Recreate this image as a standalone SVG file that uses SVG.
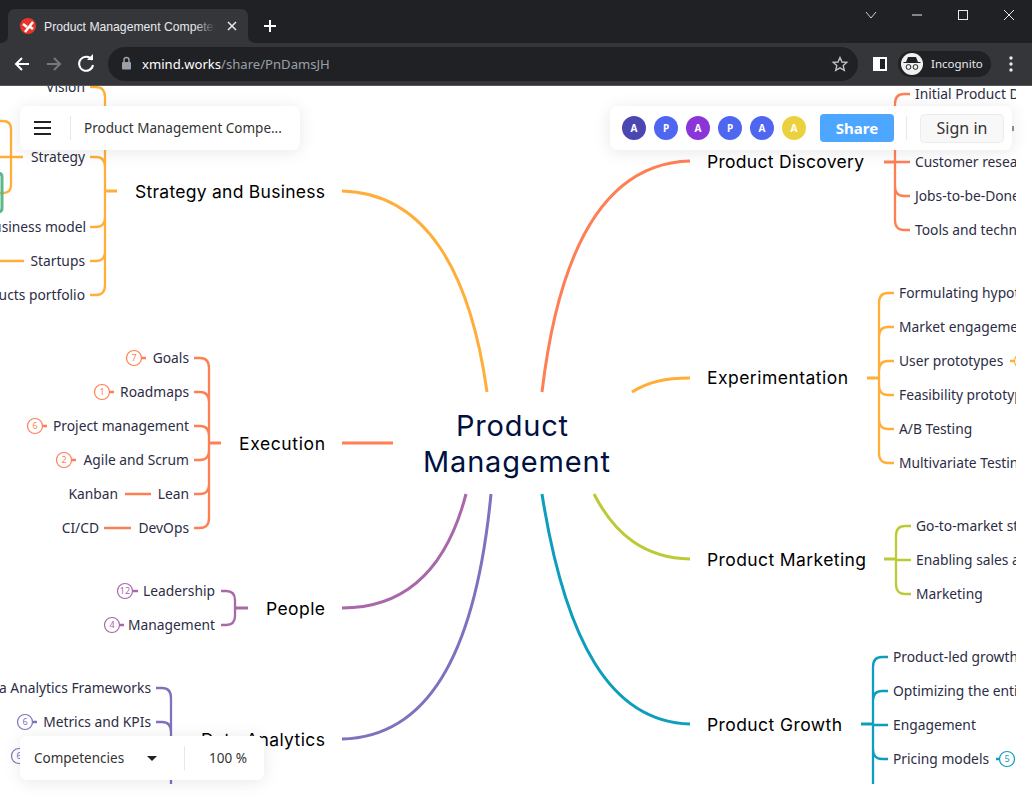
<svg xmlns="http://www.w3.org/2000/svg" width="1032" height="800" viewBox="0 0 1032 800">
<style>
text{font-family:"Noto Sans","Open Sans",sans-serif}
.c{fill:none;stroke-width:2.300;stroke-linecap:butt}
.m{fill:none;stroke-width:3}
.k{stroke-width:3}
.t{font-size:13.800px;fill:#2c2d45}
.e{text-anchor:end}
.h{font-size:17.500px;fill:#000;font-family:Inter,"Noto Sans",sans-serif}
.cn{font-size:29px;fill:#001040;font-family:Inter,"Noto Sans",sans-serif}
.b{fill:#fff;stroke-width:1.200}
.n{font-size:9px;text-anchor:middle}
.o{stroke:#ff7f55}.y{stroke:#ffae3a}.p{stroke:#a868aa}.v{stroke:#7d72bd}.g{stroke:#bccb35}.u{stroke:#0e9dbc}
.ui{font-size:13.500px;fill:#333}
.w{fill:none;stroke:#fff;stroke-width:2}
.av{font-size:10px;font-weight:700;text-anchor:middle;fill:#fff}
</style>
<defs>
<clipPath id="r"><rect x="0" y="86" width="1016" height="714"/></clipPath>
<clipPath id="tabc"><rect x="40" y="9" width="175" height="34"/></clipPath>
<linearGradient id="fade"><stop offset="0" stop-color="#35363a" stop-opacity="0"/><stop offset="1" stop-color="#35363a"/></linearGradient>
<filter id="s" x="-20%" y="-60%" width="140%" height="220%"><feDropShadow dx="0" dy="2" stdDeviation="8" flood-color="#000" flood-opacity=".09"/></filter>
</defs>
<rect width="1032" height="800" fill="#fff"/>
<g id="connectors" clip-path="url(#r)">
<path class="m y" d="M342 191C425 193 470 270 487 392"/>
<path class="m o" d="M690 161C610 163 560 240 542 392"/>
<path class="m y" d="M690 378C665 378 648 382 632 392"/>
<path class="m g" d="M690 559C645 558 615 535 594 494"/>
<path class="m u" d="M690 724C610 722 565 640 542 494"/>
<path class="m o" d="M342 443H393"/>
<path class="m p" d="M342 608C400 608 445 575 466 494"/>
<path class="m v" d="M342 739C425 737 475 660 491 494"/>
<path class="c y" d="M90 87H96Q105 87 105 97V285Q105 295 96 295H90M90 157H96Q105 157 105 167M90 227H96Q105 227 105 217M90 261H96Q105 261 105 251"/>
<path class="c y k" d="M105 191H117"/>
<path class="c y" d="M0 121H3Q11 121 11 129V185Q11 193 3 193H0M0 157H23M0 261H24"/>
<path class="c o" d="M194 358H200Q209 358 209 368V518Q209 528 200 528H194M194 392H200Q209 392 209 402M194 426H200Q209 426 209 436M194 460H200Q209 460 209 450M194 494H200Q209 494 209 484"/>
<path class="c o k" d="M209 443H221"/>
<path class="c o" d="M125 494H151M104 528H131M142 358H146M110 392H114M43 426H47M72 460H76"/>
<path class="c p" d="M221 591H226Q235 591 235 600V616Q235 625 226 625H221"/>
<path class="c p k" d="M235 608H248"/>
<path class="c p" d="M133 591H138M120 625H124"/>
<path class="c v" d="M156 688H162Q171 688 171 698V784M156 722H162Q171 722 171 732M33 722H37"/>
<path class="c o" d="M910 94H904Q895 94 895 104V220Q895 230 904 230H910M910 196H904Q895 196 895 186M895 162H910"/>
<path class="c o k" d="M884 162H895"/>
<path class="c y" d="M894 293H888Q879 293 879 303V453Q879 463 888 463H894M894 327H888Q879 327 879 337M894 361H888Q879 361 879 371M894 395H888Q879 395 879 385M894 429H888Q879 429 879 419M1010 361H1015"/>
<path class="c y k" d="M867 378H879"/>
<path class="c g" d="M911 526H905Q896 526 896 536V584Q896 594 905 594H911M896 560H911"/>
<path class="c g k" d="M884 559H896"/>
<path class="c u" d="M888 657H882Q873 657 873 667V784M888 691H882Q873 691 873 701M873 725H888M888 759H882Q873 759 873 749M996 759H1000"/>
<path class="c u k" d="M861 724H873"/>
<path fill="none" stroke="#5cb88a" stroke-width="3" d="M-2 173Q2 173 2 177V208Q2 212 -2 212"/>
</g>
<g id="center"><text class="cn" x="512" y="436" text-anchor="middle" textLength="112">Product</text><text class="cn" x="516.500" y="472" text-anchor="middle" textLength="187">Management</text></g>
<g id="strategy"><text class="h e" x="325" y="198" textLength="190">Strategy and Business</text><text class="t e" x="85" y="92">Vision</text><text class="t e" x="85" y="162">Strategy</text><text class="t e" x="86" y="232">Business model</text><text class="t e" x="85" y="266">Startups</text><text class="t e" x="85" y="300">Products portfolio</text></g>
<g id="execution"><text class="h e" x="325" y="450" textLength="86">Execution</text><text class="t e" x="189" y="363">Goals</text><text class="t e" x="189" y="397">Roadmaps</text><text class="t e" x="189" y="431">Project management</text><text class="t e" x="189" y="465">Agile and Scrum</text><text class="t e" x="189" y="499">Lean</text><text class="t e" x="118" y="499">Kanban</text><text class="t e" x="189" y="533">DevOps</text><text class="t e" x="99" y="533">CI/CD</text>
<circle class="b o" cx="134" cy="358" r="7.500"/><text class="n" x="134" y="361" fill="#ff7f55">7</text><circle class="b o" cx="102" cy="392" r="7.500"/><text class="n" x="102" y="395" fill="#ff7f55">1</text><circle class="b o" cx="35" cy="426" r="7.500"/><text class="n" x="35" y="429" fill="#ff7f55">6</text><circle class="b o" cx="64" cy="460" r="7.500"/><text class="n" x="64" y="463" fill="#ff7f55">2</text></g>
<g id="people"><text class="h e" x="325" y="615" textLength="59">People</text><text class="t e" x="215" y="596">Leadership</text><text class="t e" x="215" y="630">Management</text><circle class="b p" cx="125" cy="591" r="7.500"/><text class="n" x="125" y="594" fill="#a868aa">12</text><circle class="b p" cx="112" cy="625" r="7.500"/><text class="n" x="112" y="628" fill="#a868aa">4</text></g>
<g id="data"><text class="h e" x="325" y="746" textLength="124">Data Analytics</text><text class="t e" x="151" y="693">Data Analytics Frameworks</text><text class="t e" x="151" y="727">Metrics and KPIs</text><circle class="b v" cx="25" cy="722" r="7.500"/><text class="n" x="25" y="725" fill="#7d72bd">6</text><circle class="b v" cx="19" cy="756" r="7.500"/><text class="n" x="19" y="759" fill="#7d72bd">6</text></g>
<g clip-path="url(#r)">
<g id="discovery"><text class="h" x="707" y="168" textLength="157">Product Discovery</text><text class="t" x="915" y="99">Initial Product Discovery</text><text class="t" x="915" y="167">Customer research</text><text class="t" x="915" y="201">Jobs-to-be-Done</text><text class="t" x="915" y="235">Tools and techniques</text><path stroke="#7a6a55" stroke-width="1.500" d="M1013 126V131"/></g>
<g id="experimentation"><text class="h" x="707" y="384" textLength="141">Experimentation</text><text class="t" x="899" y="298">Formulating hypotheses</text><text class="t" x="899" y="332">Market engagement</text><text class="t" x="899" y="366">User prototypes</text><text class="t" x="899" y="400">Feasibility prototypes</text><text class="t" x="899" y="434">A/B Testing</text><text class="t" x="899" y="468">Multivariate Testing</text><circle class="b y" cx="1022" cy="361" r="7.500"/></g>
<g id="marketing"><text class="h" x="707" y="566" textLength="159">Product Marketing</text><text class="t" x="916" y="531">Go-to-market strategy</text><text class="t" x="916" y="565">Enabling sales and</text><text class="t" x="916" y="599">Marketing</text></g>
<g id="growth"><text class="h" x="707" y="731" textLength="135">Product Growth</text><text class="t" x="893" y="662">Product-led growth</text><text class="t" x="893" y="696">Optimizing the entire</text><text class="t" x="893" y="730">Engagement</text><text class="t" x="893" y="764">Pricing models</text><circle class="b u" cx="1007" cy="759" r="7.500"/><text class="n" x="1007" y="762" fill="#0e9dbc">5</text></g>
</g>
<g id="panel-left"><rect x="20" y="106" width="280" height="44" rx="8" fill="#fff" filter="url(#s)"/><path stroke="#222" stroke-width="2" d="M34 122H51M34 128H51M34 134H51"/><path stroke="#e8e8e8" d="M70.500 116V140"/><text class="ui" x="84" y="133">Product Management Compe...</text></g>
<g id="panel-right"><rect x="610" y="106" width="402" height="44" rx="8" fill="#fff" filter="url(#s)"/>
<circle cx="634" cy="128" r="12" fill="#4a47b1"/><text class="av" x="634" y="132">A</text><circle cx="666" cy="128" r="12" fill="#4f66f0"/><text class="av" x="666" y="132">P</text><circle cx="698" cy="128" r="12" fill="#8b35d8"/><text class="av" x="698" y="132">A</text><circle cx="730" cy="128" r="12" fill="#4f66f0"/><text class="av" x="730" y="132">P</text><circle cx="762" cy="128" r="12" fill="#4f66f0"/><text class="av" x="762" y="132">A</text><circle cx="794" cy="128" r="12" fill="#ecd13f"/><text class="av" x="794" y="132">A</text>
<rect x="820" y="114" width="74" height="28" rx="4" fill="#4da6ff"/><text x="857" y="134" text-anchor="middle" font-size="15" font-weight="700" fill="#fff">Share</text><path stroke="#e8e8e8" d="M906.500 116V140"/><rect x="920.500" y="114.500" width="83" height="28" rx="4" fill="#f8f8f8" stroke="#ececec"/><text x="962" y="134" text-anchor="middle" font-size="16" fill="#333">Sign in</text></g>
<g id="panel-bottom"><rect x="20" y="736" width="244" height="44" rx="8" fill="#fff" filter="url(#s)"/><text class="ui" x="34" y="763">Competencies</text><path fill="#222" d="M147 756H157L152 761Z"/><path stroke="#e8e8e8" d="M184.500 746V770"/><text class="ui" x="209" y="763">100 %</text></g>
<g id="browser"><rect width="1032" height="43" fill="#202124"/><rect y="43" width="1032" height="42" fill="#35363a"/><rect y="85" width="1032" height="1" fill="#55565a"/>
<path d="M0 43Q8 43 8 35V17Q8 9 16 9H240Q248 9 248 17V35Q248 43 256 43Z" fill="#35363a"/>
<circle cx="28" cy="26" r="8" fill="#e8352b"/><path stroke="#fff" stroke-width="2.500" d="M23 24L27 27M25 32L33 22M29 26L33 29"/>
<text x="44" y="30.500" font-size="12.200" fill="#e8eaed" style="font-family:'Liberation Sans',sans-serif" clip-path="url(#tabc)">Product Management Competencies</text><rect x="195" y="12" width="20" height="28" fill="url(#fade)"/>
<path stroke="#e8eaed" stroke-width="1.500" d="M228 22L236 30M236 22L228 30"/><path stroke="#fff" stroke-width="2" d="M264 26H276M270 20V32"/>
<path fill="none" stroke="#d0d0d0" d="M866 12L871 18L876 12"/><path stroke="#e8eaed" d="M912 15H922M1004 10L1014 20M1014 10L1004 20"/><rect x="958.500" y="10.500" width="9" height="9" fill="none" stroke="#e8eaed"/>
<path class="w" d="M29 64H16M22 58L16 64L22 70"/><path fill="none" stroke="#77787a" stroke-width="2" d="M47 64H60M54 58L60 64L54 70"/>
<path class="w" d="M92 60A7 7 0 1 0 93 65"/><path fill="#fff" d="M87 60H93V54Z"/>
<rect x="108" y="47" width="750" height="34" rx="17" fill="#202124"/><rect x="122" y="62" width="9" height="7.500" rx="1" fill="#9aa0a6"/><path fill="none" stroke="#9aa0a6" stroke-width="1.500" d="M124 62V60A2.500 2.500 0 0 1 129 60V62"/>
<text x="142" y="69" font-size="13.100"><tspan fill="#fff">xmind.works</tspan><tspan fill="#9aa0a6">/share/PnDamsJH</tspan></text>
<path fill="none" stroke="#bdc1c6" stroke-width="1.400" d="M840 57.500L842 62L846.800 62.400L843.200 65.600L844.300 70.300L840 67.800L835.700 70.300L836.800 65.600L833.200 62.400L838 62Z"/>
<rect x="873" y="57" width="14" height="14" fill="#fff"/><rect x="880" y="59" width="5" height="10" fill="#202124"/>
<rect x="898" y="51" width="93" height="26" rx="13" fill="#202124"/><circle cx="912" cy="64" r="11" fill="#f1f1f1"/><path fill="#202124" d="M906 62L908 57H916L918 62ZM903.500 62H920.500V63H903.500Z"/><circle cx="908.500" cy="67" r="2.400" fill="none" stroke="#202124"/><circle cx="915.500" cy="67" r="2.400" fill="none" stroke="#202124"/>
<text x="931" y="68" font-size="11.500" fill="#e8eaed">Incognito</text>
<circle cx="1011" cy="58" r="1.700" fill="#e8eaed"/><circle cx="1011" cy="64" r="1.700" fill="#e8eaed"/><circle cx="1011" cy="70" r="1.700" fill="#e8eaed"/></g>
</svg>
